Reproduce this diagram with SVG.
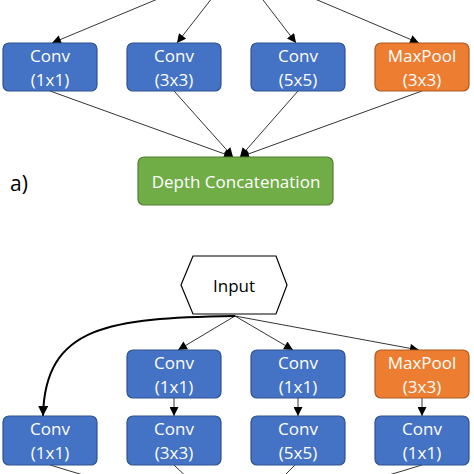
<svg xmlns="http://www.w3.org/2000/svg" width="474" height="474" viewBox="0 0 474 474">
<style>
.b{fill:#4472C4;stroke:#2F528F;stroke-width:1.2}
.o{fill:#ED7D31;stroke:#AE5A21;stroke-width:1.2}
.g{fill:#70AD47;stroke:#507E32;stroke-width:1.2}
.t{font-family:"Open Sans",sans-serif;font-size:17px;fill:#ffffff;text-anchor:middle}
.k{font-family:"Open Sans",sans-serif;font-size:17px;fill:#000000;text-anchor:middle}
.c{stroke:#000;stroke-width:0.8;fill:none;marker-end:url(#ah)}
.cb{stroke:#000;stroke-width:2;fill:none;marker-end:url(#ahb)}
</style>
<defs>
<marker id="ah" viewBox="0 0 10 10" refX="10" refY="5" markerWidth="10" markerHeight="9" markerUnits="userSpaceOnUse" orient="auto">
<path d="M0,0 L10,5 L0,10 Z" fill="#000"/>
</marker>
<marker id="ahb" viewBox="0 0 10 10" refX="10" refY="5" markerWidth="11" markerHeight="10" markerUnits="userSpaceOnUse" orient="auto">
<path d="M0,0 L10,5 L0,10 Z" fill="#000"/>
</marker>
</defs>
<rect width="474" height="474" fill="#fff"/>
<g id="connectors">
<line class="c" x1="237" y1="-34" x2="52" y2="43"/>
<line class="c" x1="237" y1="-34" x2="177" y2="43"/>
<line class="c" x1="237" y1="-34" x2="296" y2="43"/>
<line class="c" x1="237" y1="-34" x2="419" y2="43"/>
<line class="c" x1="50" y1="91" x2="233" y2="157"/>
<line class="c" x1="174" y1="91" x2="233" y2="157"/>
<line class="c" x1="298" y1="91" x2="240" y2="157"/>
<line class="c" x1="422" y1="91" x2="240" y2="157"/>
<path class="cb" d="M235,316 C110,318 45,325 43,416"/>
<line class="c" x1="235" y1="316" x2="178" y2="350"/>
<line class="c" x1="235" y1="316" x2="293" y2="350"/>
<line class="c" x1="235" y1="316" x2="419" y2="350"/>
<line class="c" x1="174" y1="398" x2="174" y2="416"/>
<line class="c" x1="298" y1="398" x2="298" y2="416"/>
<line class="c" x1="422" y1="398" x2="422" y2="416"/>
<line class="c" x1="50" y1="465" x2="232" y2="520"/>
<line class="c" x1="174" y1="465" x2="232" y2="520"/>
<line class="c" x1="295" y1="465" x2="240" y2="520"/>
<line class="c" x1="422" y1="465" x2="240" y2="520"/>
</g>
<g id="a-conv1x1"><rect class="b" x="3" y="43" width="94" height="48" rx="6"/><text class="t" x="50" y="62">Conv</text><text class="t" x="50" y="86">(1x1)</text></g>
<g id="a-conv3x3"><rect class="b" x="127" y="43" width="94" height="48" rx="6"/><text class="t" x="174" y="62">Conv</text><text class="t" x="174" y="86">(3x3)</text></g>
<g id="a-conv5x5"><rect class="b" x="251" y="43" width="94" height="48" rx="6"/><text class="t" x="298" y="62">Conv</text><text class="t" x="298" y="86">(5x5)</text></g>
<g id="a-maxpool"><rect class="o" x="375" y="43" width="94" height="48" rx="6"/><text class="t" x="422" y="62">MaxPool</text><text class="t" x="422" y="86">(3x3)</text></g>
<g id="a-depth"><rect class="g" x="138" y="157" width="195" height="48" rx="6"/><text class="t" x="236" y="188">Depth Concatenation</text></g>
<g id="label-a"><text x="19" y="191" font-family="Open Sans,sans-serif" font-size="21" fill="#000" text-anchor="middle">a)</text></g>
<g id="b-input"><polygon points="181,285 193,256 276,256 287,285 276,314 193,314" fill="#fff" stroke="#000" stroke-width="1.2"/><text class="k" x="234" y="292">Input</text></g>
<g id="b-conv1x1-a"><rect class="b" x="127" y="350" width="94" height="48" rx="6"/><text class="t" x="174" y="369">Conv</text><text class="t" x="174" y="393">(1x1)</text></g>
<g id="b-conv1x1-b"><rect class="b" x="251" y="350" width="94" height="48" rx="6"/><text class="t" x="298" y="369">Conv</text><text class="t" x="298" y="393">(1x1)</text></g>
<g id="b-maxpool"><rect class="o" x="375" y="350" width="94" height="48" rx="6"/><text class="t" x="422" y="369">MaxPool</text><text class="t" x="422" y="393">(3x3)</text></g>
<g id="b-conv1x1"><rect class="b" x="3" y="416" width="94" height="49" rx="6"/><text class="t" x="50" y="435">Conv</text><text class="t" x="50" y="459">(1x1)</text></g>
<g id="b-conv3x3"><rect class="b" x="127" y="416" width="94" height="49" rx="6"/><text class="t" x="174" y="435">Conv</text><text class="t" x="174" y="459">(3x3)</text></g>
<g id="b-conv5x5"><rect class="b" x="251" y="416" width="94" height="49" rx="6"/><text class="t" x="298" y="435">Conv</text><text class="t" x="298" y="459">(5x5)</text></g>
<g id="b-conv1x1-c"><rect class="b" x="375" y="416" width="94" height="49" rx="6"/><text class="t" x="422" y="435">Conv</text><text class="t" x="422" y="459">(1x1)</text></g>
</svg>
